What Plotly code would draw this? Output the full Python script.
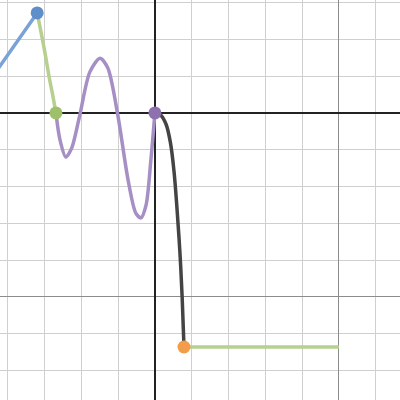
import plotly.graph_objects as go

# segments (graph units)
blue_x = [-4.3, -3.2]
blue_y = [1.15, 2.72]
green_x = [-3.2, -3.0, -2.87, -2.78, -2.69]
green_y = [2.72, 1.7, 0.95, 0.5, 0.0]
purple_x = [-2.69, -2.58, -2.42, -2.26, -2.04, -1.77, -1.49, -1.28, -1.01, -0.73, -0.52, -0.38, -0.24, -0.11, 0.0]
purple_y = [0.0, -0.73, -1.2, -0.95, -0.05, 1.11, 1.49, 1.22, -0.05, -1.82, -2.72, -2.85, -2.5, -1.28, 0.0]
dark_x = [0.0, 0.15, 0.3, 0.42, 0.52, 0.6, 0.68, 0.74, 0.79]
dark_y = [0.0, -0.05, -0.3, -0.8, -1.6, -2.6, -3.8, -5.0, -6.36]
flat_x = [0.79, 5.0]
flat_y = [-6.36, -6.36]

dots_x = [-3.2, -2.69, 0.0, 0.79]
dots_y = [2.72, 0.0, 0.0, -6.36]
dot_colors = ["#5f8fc9", "#9fc06a", "#8e72b0", "#f39c4a"]

fig = go.Figure()
fig.add_trace(go.Scatter(x=blue_x, y=blue_y, mode="lines", line=dict(color="#7aa2d6", width=3.5)))
fig.add_trace(go.Scatter(x=green_x, y=green_y, mode="lines", line=dict(color="#b7cf8f", width=3.5, shape="spline")))
fig.add_trace(go.Scatter(x=purple_x, y=purple_y, mode="lines", line=dict(color="#a58fc4", width=3.5, shape="spline", smoothing=0.8)))
fig.add_trace(go.Scatter(x=dark_x, y=dark_y, mode="lines", line=dict(color="#444444", width=3.5, shape="spline")))
fig.add_trace(go.Scatter(x=flat_x, y=flat_y, mode="lines", line=dict(color="#b7cf8f", width=3.5)))
fig.add_trace(go.Scatter(x=dots_x, y=dots_y, mode="markers", marker=dict(color=dot_colors, size=13)))

axis = dict(showticklabels=False, ticks="", dtick=5, gridcolor="#8c8c8c", gridwidth=1,
            minor=dict(dtick=1, gridcolor="#cfcfcf", showgrid=True),
            zeroline=True, zerolinecolor="#222222", zerolinewidth=1.5, fixedrange=True)
fig.update_layout(
    width=400, height=400, margin=dict(l=0, r=0, t=0, b=0, pad=0),
    plot_bgcolor="white", paper_bgcolor="white", showlegend=False,
    xaxis=dict(range=[-4.21, 6.66], tick0=0, **axis),
    yaxis=dict(range=[-7.8, 3.07], tick0=0, **axis),
)
fig.write_html("out.html", config={"displayModeBar": False},
               post_script="document.body.style.margin='0';")
